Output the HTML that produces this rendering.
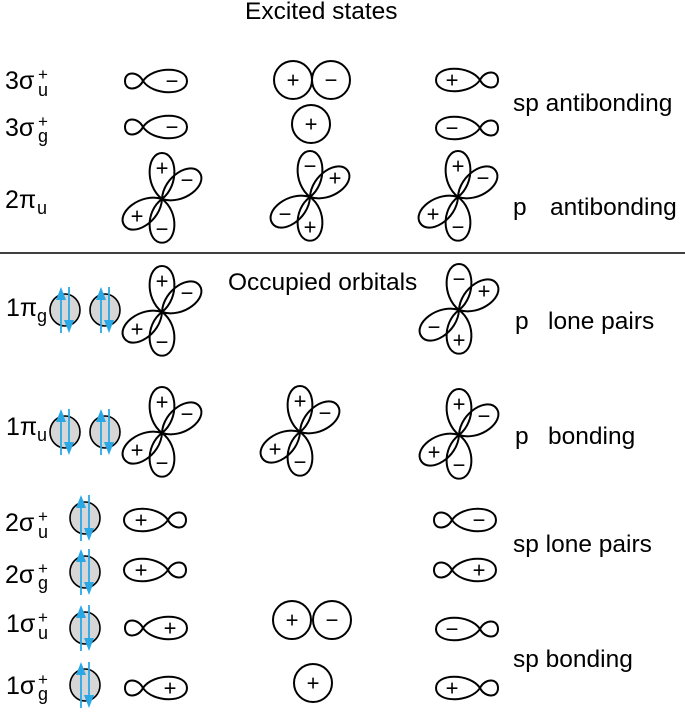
<!DOCTYPE html>
<html><head><meta charset="utf-8"><style>
html,body{margin:0;padding:0;background:#fff;}
svg{display:block;}
text{font-family:"Liberation Sans",sans-serif;fill:#000;}
.s{font-size:22px;text-anchor:middle;dominant-baseline:central;}
</style></head><body>
<svg width="685" height="714" viewBox="0 0 685 714" xmlns="http://www.w3.org/2000/svg">
<defs>
<path id="pv" d="M0,0 C-18,-14 -15,-46 0,-46 C15,-46 18,-14 0,0 Z" fill="none" stroke="#000" stroke-width="2"/>
<g id="hr">
<path d="M0,0 C10,-15 44,-15 44,0 C44,15 10,15 0,0 Z" fill="none" stroke="#000" stroke-width="2"/>
<path d="M0,0 C-5,-10 -18,-10 -18,0 C-18,10 -5,10 0,0 Z" fill="none" stroke="#000" stroke-width="2"/>
</g>
<g id="hl" transform="scale(-1,1)"><use href="#hr"/></g>
<g id="clover"><use href="#pv"/><use href="#pv" transform="rotate(180) scale(1,0.95)"/><use href="#pv" transform="rotate(55)"/><use href="#pv" transform="rotate(235)"/></g>
<g id="pair">
<ellipse cx="0" cy="0" rx="15" ry="16" fill="#d6d6d6" stroke="#000" stroke-width="1.6"/>
<line x1="-4" y1="23" x2="-4" y2="-13" stroke="#2aa8e6" stroke-width="1.8"/>
<polygon points="-4,-23 -9,-10 1,-10" fill="#2aa8e6"/>
<line x1="4" y1="-23" x2="4" y2="13" stroke="#2aa8e6" stroke-width="1.8"/>
<polygon points="4,23 -1,10 9,10" fill="#2aa8e6"/>
</g>
</defs>

<g font-size="24.5">
<text x="245" y="19">Excited states</text>
<text x="228" y="290">Occupied orbitals</text>
</g>
<line x1="0" y1="253" x2="685" y2="253" stroke="#000" stroke-width="1.6"/>

<g font-size="25">
<text x="5" y="89">3σ</text><text x="38" y="80" font-size="17">+</text><text x="38" y="96" font-size="18">u</text>
<text x="5" y="136">3σ</text><text x="38" y="127" font-size="17">+</text><text x="38" y="142" font-size="18">g</text>
<text x="5" y="208">2π</text><text x="37" y="214" font-size="18">u</text>
<text x="6" y="316">1π</text><text x="37" y="322" font-size="18">g</text>
<text x="6" y="435">1π</text><text x="37" y="441" font-size="18">u</text>
<text x="5" y="531">2σ</text><text x="38" y="522" font-size="17">+</text><text x="38" y="538" font-size="18">u</text>
<text x="5" y="583">2σ</text><text x="38" y="574" font-size="17">+</text><text x="38" y="589" font-size="18">g</text>
<text x="6" y="632">1σ</text><text x="38" y="623" font-size="17">+</text><text x="38" y="639" font-size="18">u</text>
<text x="6" y="694">1σ</text><text x="38" y="685" font-size="17">+</text><text x="38" y="700" font-size="18">g</text>
</g>

<g font-size="24.5">
<text x="513" y="111">sp antibonding</text>
<text x="513" y="215">p</text><text x="550" y="215">antibonding</text>
<text x="515" y="329">p</text><text x="548" y="329">lone pairs</text>
<text x="515" y="444">p</text><text x="548" y="444">bonding</text>
<text x="513" y="552">sp lone pairs</text>
<text x="513" y="667">sp bonding</text>
</g>

<use href="#hr" x="143" y="81"/><text class="s" x="172" y="81">−</text>
<circle cx="293" cy="80" r="19" fill="none" stroke="#000" stroke-width="2"/><text class="s" x="293" y="80">+</text>
<circle cx="331" cy="80" r="19" fill="none" stroke="#000" stroke-width="2"/><text class="s" x="331" y="80">−</text>
<use href="#hl" transform="translate(480,80)"/><text class="s" x="452" y="80">+</text>
<use href="#hr" x="143" y="127"/><text class="s" x="172" y="127">−</text>
<circle cx="311" cy="124" r="19" fill="none" stroke="#000" stroke-width="2"/><text class="s" x="311" y="124">+</text>
<use href="#hl" transform="translate(480,128)"/><text class="s" x="452" y="128">−</text>

<g transform="translate(162,199)"><use href="#clover"/><text class="s" x="0" y="-31">+</text><text class="s" x="25" y="-19">−</text><text class="s" x="-25" y="17">+</text><text class="s" x="0" y="30">−</text></g>
<g transform="translate(310,197)"><use href="#clover"/><text class="s" x="0" y="-31">−</text><text class="s" x="25" y="-19">+</text><text class="s" x="-25" y="17">−</text><text class="s" x="0" y="30">+</text></g>
<g transform="translate(458,197)"><use href="#clover"/><text class="s" x="0" y="-31">+</text><text class="s" x="25" y="-19">−</text><text class="s" x="-25" y="17">+</text><text class="s" x="0" y="30">−</text></g>

<use href="#pair" x="65" y="310"/><use href="#pair" x="105" y="310"/>
<g transform="translate(162,312)"><use href="#clover"/><text class="s" x="0" y="-31">+</text><text class="s" x="25" y="-19">−</text><text class="s" x="-25" y="17">+</text><text class="s" x="0" y="30">−</text></g>
<g transform="translate(459,310)"><use href="#clover"/><text class="s" x="0" y="-31">−</text><text class="s" x="25" y="-19">+</text><text class="s" x="-25" y="17">−</text><text class="s" x="0" y="30">+</text></g>

<use href="#pair" x="65" y="432"/><use href="#pair" x="105" y="432"/>
<g transform="translate(162,433)"><use href="#clover"/><text class="s" x="0" y="-31">+</text><text class="s" x="25" y="-19">−</text><text class="s" x="-25" y="17">+</text><text class="s" x="0" y="30">−</text></g>
<g transform="translate(300,432)"><use href="#clover"/><text class="s" x="0" y="-31">+</text><text class="s" x="25" y="-19">−</text><text class="s" x="-25" y="17">+</text><text class="s" x="0" y="30">−</text></g>
<g transform="translate(459,435)"><use href="#clover"/><text class="s" x="0" y="-31">+</text><text class="s" x="25" y="-19">−</text><text class="s" x="-25" y="17">+</text><text class="s" x="0" y="30">−</text></g>

<use href="#pair" x="85" y="518"/>
<use href="#hl" transform="translate(168,520)"/><text class="s" x="141" y="520">+</text>
<use href="#hr" x="452" y="520"/><text class="s" x="479" y="520">−</text>
<use href="#pair" x="85" y="572"/>
<use href="#hl" transform="translate(168,570)"/><text class="s" x="141" y="570">+</text>
<use href="#hr" x="452" y="570"/><text class="s" x="479" y="570">+</text>
<use href="#pair" x="85" y="628"/>
<use href="#hr" x="143" y="628"/><text class="s" x="170" y="628">+</text>
<circle cx="292" cy="620" r="19" fill="none" stroke="#000" stroke-width="2"/><text class="s" x="292" y="620">+</text>
<circle cx="332" cy="620" r="19" fill="none" stroke="#000" stroke-width="2"/><text class="s" x="332" y="620">−</text>
<use href="#hl" transform="translate(480,629)"/><text class="s" x="452" y="629">−</text>
<use href="#pair" x="85" y="685"/>
<use href="#hr" x="143" y="688"/><text class="s" x="170" y="688">+</text>
<circle cx="313" cy="683" r="19" fill="none" stroke="#000" stroke-width="2"/><text class="s" x="313" y="683">+</text>
<use href="#hl" transform="translate(480,688)"/><text class="s" x="452" y="688">+</text>
</svg>
</body></html>
